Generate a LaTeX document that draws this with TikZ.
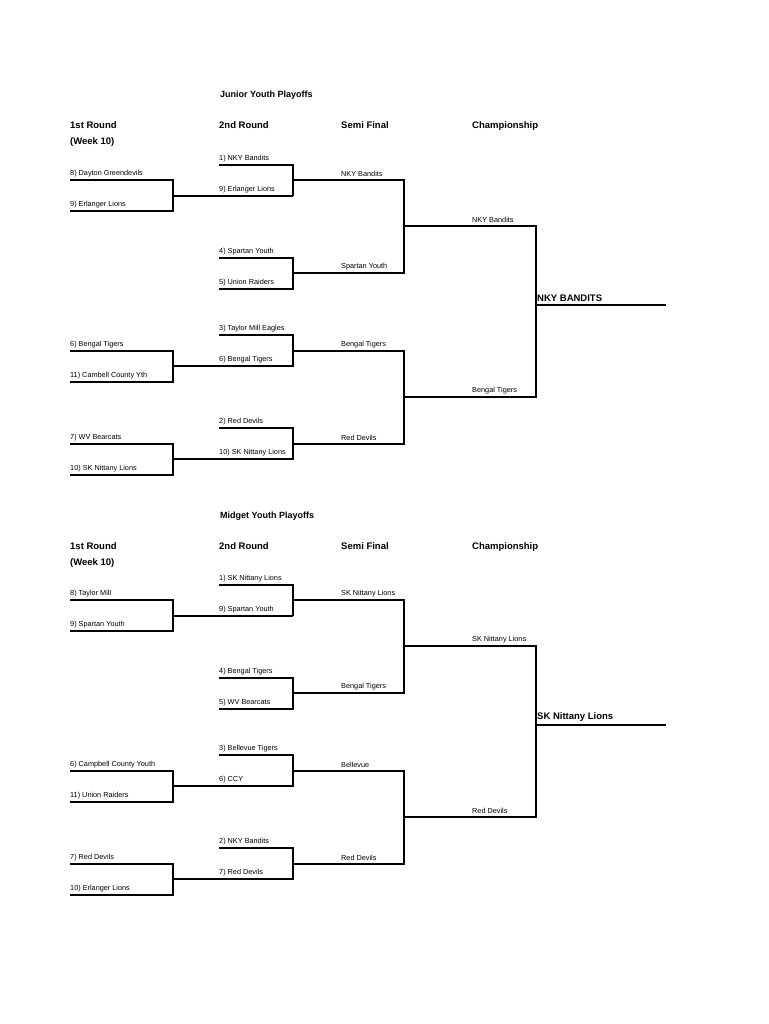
\documentclass[tikz,border=0pt]{standalone}
\usepackage{fontspec}
\setmainfont{Liberation Sans}
\begin{document}
\begin{tikzpicture}[x=1pt,y=-1pt,
  br/.style={line width=1.6pt},
  lb/.style={anchor=south west,inner sep=0pt,yshift=3pt,font=\fontsize{7.3}{8}\selectfont},
  hd/.style={anchor=base west,inner sep=0pt,font=\fontsize{9.5}{11}\selectfont\bfseries}]
\useasboundingbox (0,0) rectangle (768,1024);
\newcommand\bracket[9]{%
 \begin{scope}[yshift=-#1pt]
 \node[anchor=base west,inner sep=0pt,font=\fontsize{9}{11}\selectfont\bfseries] at (220,98) {#2};
 \node[hd] at (70,129) {1st Round};
 \node[hd] at (70,145) {(Week 10)};
 \node[hd] at (219,129) {2nd Round};
 \node[hd] at (341,129) {Semi Final};
 \node[hd] at (472,129) {Championship};
 \draw[br] (70,180)--(173,180)--(173,211)--(70,211);
 \draw[br] (173,196)--(293,196);
 \draw[br] (219,165)--(293,165)--(293,196);
 \draw[br] (293,180)--(404,180)--(404,273)--(293,273);
 \draw[br] (219,258)--(293,258)--(293,289)--(219,289);
 \draw[br] (404,226)--(536,226)--(536,397)--(404,397);
 \draw[br] (536,305)--(666,305);
 \draw[br] (219,335)--(293,335)--(293,366)--(219,366);
 \draw[br] (70,351)--(173,351)--(173,382)--(70,382);
 \draw[br] (173,366)--(219,366);
 \draw[br] (293,351)--(404,351)--(404,444)--(293,444);
 \draw[br] (219,428)--(293,428)--(293,459)--(219,459);
 \draw[br] (70,444)--(173,444)--(173,475)--(70,475);
 \draw[br] (173,459)--(219,459);
 \foreach \x/\y/\t in {#3} \node[lb] at (\x,\y) {\t};
 \node[anchor=south west,inner sep=1pt,yshift=1pt,font=\fontsize{9.5}{11}\selectfont\bfseries] at (536,304) {#4};
 \end{scope}}
\bracket{0}{Junior Youth Playoffs}{70/180/8) Dayton Greendevils,70/211/9) Erlanger Lions,219/165/1) NKY Bandits,219/196/9) Erlanger Lions,341/180/NKY Bandits,219/258/4) Spartan Youth,219/289/5) Union Raiders,341/273/Spartan Youth,472/226/NKY Bandits,219/335/3) Taylor Mill Eagles,219/366/6) Bengal Tigers,70/351/6) Bengal Tigers,70/382/11) Cambell County Yth,341/351/Bengal Tigers,219/428/2) Red Devils,219/459/10) SK Nittany Lions,70/444/7) WV Bearcats,70/475/10) SK Nittany Lions,341/444/Red Devils,472/397/Bengal Tigers}{NKY BANDITS}{}{}{}{}{}
\bracket{420}{Midget Youth Playoffs}{70/180/8) Taylor Mill,70/211/9) Spartan Youth,219/165/1) SK Nittany Lions,219/196/9) Spartan Youth,341/180/SK Nittany Lions,219/258/4) Bengal Tigers,219/289/5) WV Bearcats,341/273/Bengal Tigers,472/226/SK Nittany Lions,219/335/3) Bellevue Tigers,219/366/6) CCY,70/351/6) Campbell County Youth,70/382/11) Union Raiders,341/351/Bellevue,219/428/2) NKY Bandits,219/459/7) Red Devils,70/444/7) Red Devils,70/475/10) Erlanger Lions,341/444/Red Devils,472/397/Red Devils}{SK Nittany Lions}{}{}{}{}{}
\end{tikzpicture}
\end{document}
